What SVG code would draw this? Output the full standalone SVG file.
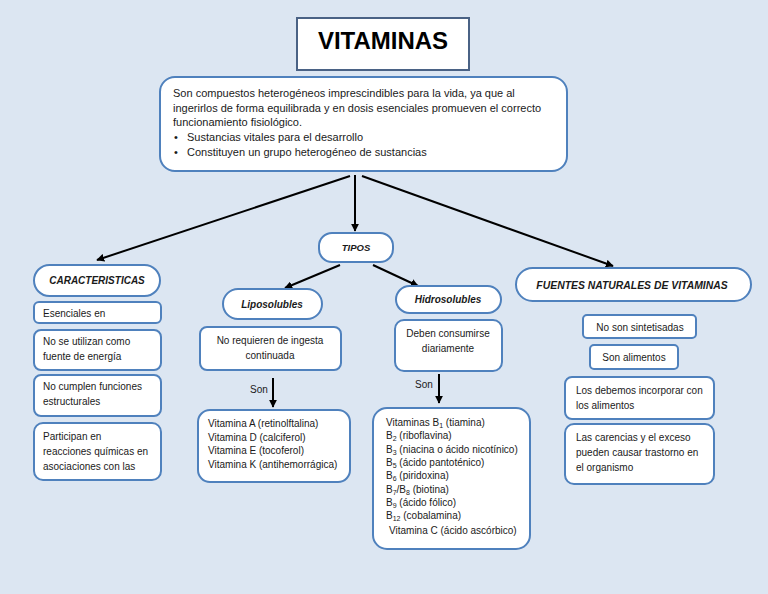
<svg xmlns="http://www.w3.org/2000/svg" width="768" height="594" viewBox="0 0 768 594">
<style>
.bx{fill:#fff;stroke:#4f81bd;stroke-width:2}
.t{font-family:"Liberation Sans",Arial,sans-serif;font-size:10px;fill:#1a1a1a}
.d{font-size:11px}
.h{font-weight:bold;font-style:italic;font-size:10px}
.h9{font-size:9.5px}
.h10{font-size:10.4px}
.ti{font-size:24px;font-weight:bold;fill:#000}
.c{text-anchor:middle}
.ln{stroke:#000;stroke-width:2;fill:none;marker-end:url(#ah)}
.sb{font-size:7px}
</style>
<defs>
<marker id="ah" viewBox="0 0 10 10" refX="9" refY="5" markerWidth="4" markerHeight="4" orient="auto" markerUnits="strokeWidth">
<path d="M0,0 L10,5 L0,10 z" fill="#000"/>
</marker>
</defs>
<rect x="0" y="0" width="768" height="594" fill="#dce6f2"/>

<g id="connectors">
<line class="ln" x1="355" y1="175" x2="355" y2="231"/>
<line class="ln" x1="350" y1="176" x2="97" y2="260"/>
<line class="ln" x1="362" y1="176" x2="613" y2="266"/>
<line class="ln" x1="340" y1="265" x2="285" y2="288"/>
<line class="ln" x1="373" y1="265" x2="418" y2="286"/>
<line class="ln" x1="273" y1="378" x2="273" y2="407"/>
<line class="ln" x1="439" y1="374" x2="439" y2="403"/>
<text class="t" x="250" y="393">Son</text>
<text class="t" x="415" y="388">Son</text>
</g>

<g id="title">
<rect x="297" y="18" width="172" height="52" fill="#fff" stroke="#4a6285" stroke-width="2"/>
<text class="t ti c" x="383" y="49">VITAMINAS</text>
</g>

<g id="desc">
<rect class="bx" x="160" y="77" width="407" height="94" rx="15"/>
<text class="t d" x="173" y="97">Son compuestos heterogéneos imprescindibles para la vida, ya que al</text>
<text class="t d" x="173" y="112">ingerirlos de forma equilibrada y en dosis esenciales promueven el correcto</text>
<text class="t d" x="173" y="126">funcionamiento fisiológico.</text>
<text class="t d" x="174" y="141">•</text>
<text class="t d" x="187" y="141">Sustancias vitales para el desarrollo</text>
<text class="t d" x="174" y="156">•</text>
<text class="t d" x="187" y="156">Constituyen un grupo heterogéneo de sustancias</text>
</g>

<g id="tipos">
<rect class="bx" x="319" y="233" width="74" height="29" rx="13"/>
<text class="t h h9 c" x="356" y="251">TIPOS</text>
</g>

<g id="caracteristicas">
<rect class="bx" x="34" y="265" width="126" height="31" rx="15.5"/>
<text class="t h c" x="97" y="284">CARACTERISTICAS</text>
</g>
<g id="car1">
<rect class="bx" x="34" y="302" width="127" height="21" rx="5"/>
<text class="t" x="43" y="317">Esenciales en</text>
</g>
<g id="car2">
<rect class="bx" x="34" y="330" width="127" height="40" rx="7"/>
<text class="t" x="43" y="345">No se utilizan como</text>
<text class="t" x="43" y="360">fuente de energía</text>
</g>
<g id="car3">
<rect class="bx" x="34" y="375" width="127" height="41" rx="7"/>
<text class="t" x="43" y="390">No cumplen funciones</text>
<text class="t" x="43" y="405">estructurales</text>
</g>
<g id="car4">
<rect class="bx" x="34" y="423" width="127" height="57" rx="9"/>
<text class="t" x="43" y="440">Participan en</text>
<text class="t" x="43" y="455">reacciones químicas en</text>
<text class="t" x="43" y="470">asociaciones con las</text>
</g>

<g id="liposolubles">
<rect class="bx" x="223" y="289" width="99" height="30" rx="15"/>
<text class="t h c" x="272" y="308">Liposolubles</text>
</g>
<g id="lipo1">
<rect class="bx" x="200" y="327" width="141" height="43" rx="7"/>
<text class="t c" x="270" y="344">No requieren de ingesta</text>
<text class="t c" x="270" y="359">continuada</text>
</g>
<g id="lipo2">
<rect class="bx" x="198" y="410" width="152" height="72" rx="12"/>
<text class="t" x="208" y="427">Vitamina A (retinolftalina)</text>
<text class="t" x="208" y="441">Vitamina D (calciferol)</text>
<text class="t" x="208" y="454">Vitamina E (tocoferol)</text>
<text class="t" x="208" y="468">Vitamina K (antihemorrágica)</text>
</g>

<g id="hidrosolubles">
<rect class="bx" x="396" y="286" width="105" height="27" rx="13.5"/>
<text class="t h c" x="448" y="303">Hidrosolubles</text>
</g>
<g id="hidro1">
<rect class="bx" x="395" y="320" width="107" height="51" rx="9"/>
<text class="t c" x="448" y="337">Deben consumirse</text>
<text class="t c" x="448" y="352">diariamente</text>
</g>
<g id="hidro2">
<rect class="bx" x="373" y="408" width="157" height="141" rx="14"/>
<text class="t" x="386" y="426">Vitaminas B<tspan class="sb" dy="2">1</tspan><tspan dy="-2"> (tiamina)</tspan></text>
<text class="t" x="386" y="439">B<tspan class="sb" dy="2">2</tspan><tspan dy="-2"> (riboflavina)</tspan></text>
<text class="t" x="386" y="453">B<tspan class="sb" dy="2">3</tspan><tspan dy="-2"> (niacina o ácido nicotínico)</tspan></text>
<text class="t" x="386" y="466">B<tspan class="sb" dy="2">5</tspan><tspan dy="-2"> (ácido pantoténico)</tspan></text>
<text class="t" x="386" y="479">B<tspan class="sb" dy="2">6</tspan><tspan dy="-2"> (piridoxina)</tspan></text>
<text class="t" x="386" y="493">B<tspan class="sb" dy="2">7</tspan><tspan dy="-2">/B</tspan><tspan class="sb" dy="2">8</tspan><tspan dy="-2"> (biotina)</tspan></text>
<text class="t" x="386" y="506">B<tspan class="sb" dy="2">9</tspan><tspan dy="-2"> (ácido fólico)</tspan></text>
<text class="t" x="386" y="519">B<tspan class="sb" dy="2">12</tspan><tspan dy="-2"> (cobalamina)</tspan></text>
<text class="t" x="389" y="534">Vitamina C (ácido ascórbico)</text>
</g>

<g id="fuentes">
<rect class="bx" x="516" y="268" width="235" height="33" rx="16.5"/>
<text class="t h h10 c" x="632" y="289">FUENTES NATURALES DE VITAMINAS</text>
</g>
<g id="fue1">
<rect class="bx" x="583" y="315" width="113" height="23" rx="4"/>
<text class="t c" x="640" y="331">No son sintetisadas</text>
</g>
<g id="fue2">
<rect class="bx" x="590" y="345" width="88" height="24" rx="4"/>
<text class="t c" x="634" y="361">Son alimentos</text>
</g>
<g id="fue3">
<rect class="bx" x="565" y="377" width="149" height="42" rx="7"/>
<text class="t" x="576" y="394">Los debemos incorporar con</text>
<text class="t" x="576" y="409">los alimentos</text>
</g>
<g id="fue4">
<rect class="bx" x="565" y="424" width="149" height="60" rx="9"/>
<text class="t" x="576" y="441">Las carencias y el exceso</text>
<text class="t" x="576" y="456">pueden causar trastorno en</text>
<text class="t" x="576" y="471">el organismo</text>
</g>
</svg>
